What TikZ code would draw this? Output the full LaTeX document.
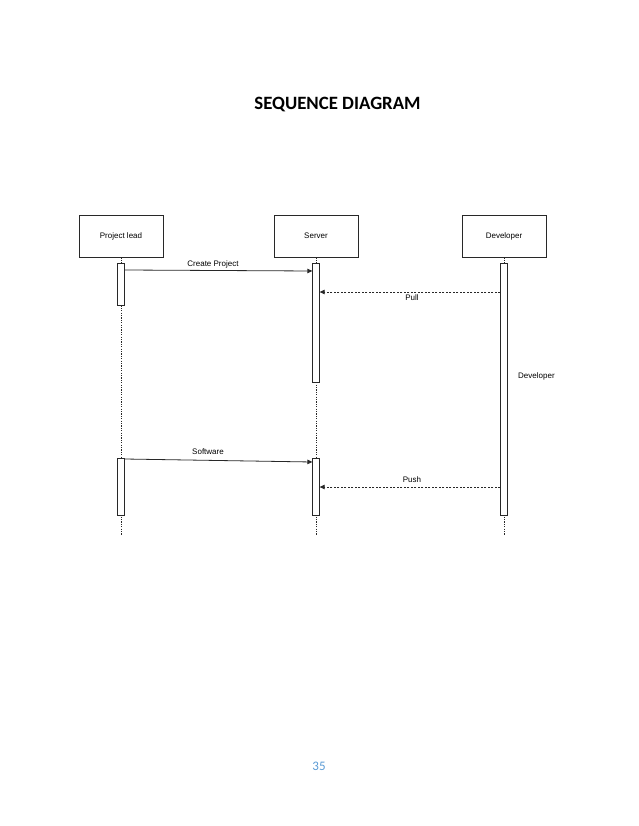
\documentclass[tikz,border=0pt]{standalone}
\usepackage{fontspec}
\setmainfont{Liberation Sans}
\newfontfamily\calibri{Carlito}
\usetikzlibrary{arrows.meta}
\definecolor{pgblue}{RGB}{91,155,213}
\definecolor{ln}{RGB}{40,40,40}
\begin{document}
\begin{tikzpicture}[x=1pt,y=-1pt,
  actor/.style={draw=ln, line width=0.8pt, minimum width=84pt, minimum height=42pt, font=\fontsize{8}{9}\selectfont, inner sep=0pt, text height=6pt, text depth=1.5pt},
  actbar/.style={draw=ln, line width=0.8pt, fill=white, minimum width=6.5pt, inner sep=0pt, anchor=north},
  life/.style={draw=ln, dash pattern=on 1.2pt off 1.2pt, line width=0.8pt},
  msg/.style={draw=ln, line width=0.8pt, -{Triangle[length=5pt,width=4.5pt]}},
  ret/.style={draw=ln, line width=0.8pt, dash pattern=on 2pt off 1.5pt, -{Triangle[length=5pt,width=4.5pt]}},
  lbl/.style={font=\fontsize{8}{9}\selectfont, inner sep=0pt, text height=6pt, text depth=1.5pt}]
\useasboundingbox (0,0) rectangle (638,826);
\node[font=\calibri\bfseries\fontsize{18.8}{22}\selectfont] (title) at (337.5,105) {SEQUENCE DIAGRAM};
\node[font=\calibri\fontsize{13}{15}\selectfont, text=pgblue] (page) at (319,766) {35};
% actors
\node[actor] (pl) at (121,236) {Project lead};
\node[actor] (sv) at (316,236) {Server};
\node[actor] (dv) at (504,236) {Developer};
% lifelines
\coordinate (plend) at (121,535);
\coordinate (svend) at (316,535);
\coordinate (dvend) at (504,535);
\draw[life] (pl.south) -- (plend);
\draw[life] (sv.south) -- (svend);
\draw[life] (dv.south) -- (dvend);
% activation bars
\node[actbar, minimum height=42pt] (pla) at (121,263) {};
\node[actbar, minimum height=119pt] (sva) at (316,263) {};
\node[actbar, minimum height=252pt] (dva) at (504,263) {};
\node[actbar, minimum height=57pt] (plb) at (121,458) {};
\node[actbar, minimum height=57pt] (svb) at (316,458) {};
% messages
\draw[msg] (pla.east |- 0,270) -- (sva.west |- 0,271);
\node[lbl] (m1) at (213,264) {Create Project};
\draw[ret] (dva.west |- 0,292) -- (sva.east |- 0,292);
\node[lbl] (m2) at (412,298.5) {Pull};
\draw[msg] (plb.east |- 0,459) -- (svb.west |- 0,462);
\node[lbl] (m3) at (208,452) {Software};
\draw[ret] (dva.west |- 0,487) -- (svb.east |- 0,487);
\node[lbl] (m4) at (412,480) {Push};
\node[lbl, anchor=west] (dlbl) at (518,376) {Developer};
\end{tikzpicture}
\end{document}
